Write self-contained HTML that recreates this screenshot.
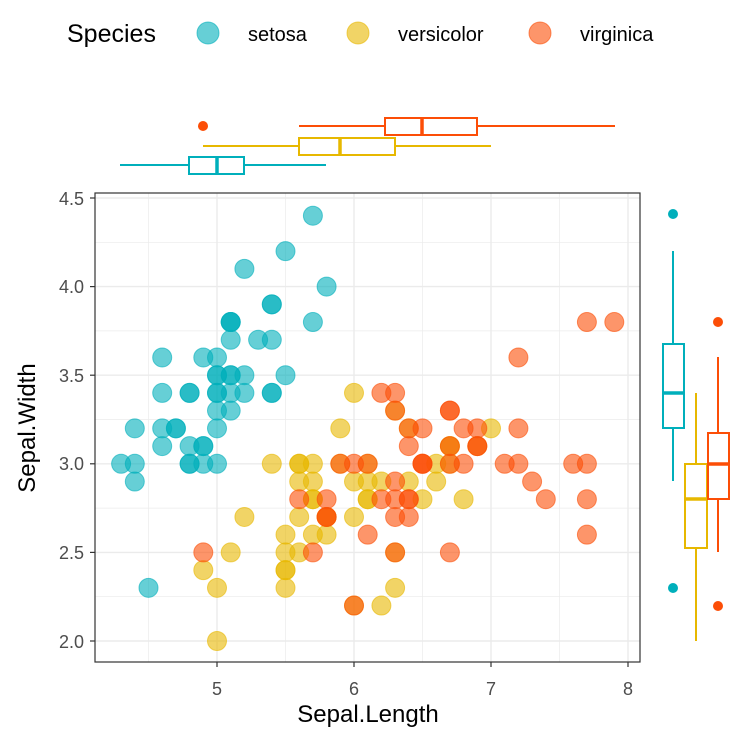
<!DOCTYPE html>
<html><head><meta charset="utf-8"><style>
html,body{margin:0;padding:0;background:#fff;}
svg{display:block;font-family:"Liberation Sans",sans-serif;}
</style></head><body>
<svg id="s" width="742" height="736" viewBox="0 0 742 736" xmlns="http://www.w3.org/2000/svg">
<rect width="742" height="736" fill="#fff"/>
<g id="grid"></g>
<g id="pts"></g>
<rect x="95" y="193" width="545" height="469" fill="none" stroke="#333" stroke-width="1.2"/>
<g id="ticks" stroke="#333" stroke-width="1.2"></g>
<g fill="#4d4d4d" font-size="18" text-anchor="middle">
<text x="217" y="695">5</text><text x="354" y="695">6</text><text x="491" y="695">7</text><text x="628" y="695">8</text>
</g>
<g fill="#4d4d4d" font-size="18" text-anchor="end">
<text x="84" y="205">4.5</text><text x="84" y="293">4.0</text><text x="84" y="382">3.5</text><text x="84" y="470">3.0</text><text x="84" y="559">2.5</text><text x="84" y="648">2.0</text>
</g>
<text x="368" y="722" font-size="24" text-anchor="middle">Sepal.Length</text>
<text transform="translate(35,428) rotate(-90)" font-size="24" text-anchor="middle">Sepal.Width</text>
<!-- legend -->
<text x="67" y="42" font-size="25">Species</text>
<circle cx="208" cy="33" r="11" fill="#00AFBB" fill-opacity="0.6" stroke="#00AFBB" stroke-opacity="0.6"/>
<text x="248" y="41" font-size="20">setosa</text>
<circle cx="358" cy="33" r="11" fill="#E7B800" fill-opacity="0.6" stroke="#E7B800" stroke-opacity="0.6"/>
<text x="398" y="41" font-size="20">versicolor</text>
<circle cx="540" cy="33" r="11" fill="#FC4E07" fill-opacity="0.6" stroke="#FC4E07" stroke-opacity="0.6"/>
<text x="580" y="41" font-size="20">virginica</text>
<!-- top boxplots -->
<g fill="none" stroke-width="2">
<g stroke="#00AFBB">
<line x1="120" y1="165" x2="189" y2="165"/><line x1="244" y1="165" x2="326" y2="165"/>
<rect x="189" y="157" width="55" height="17" fill="#fff"/><line x1="217" y1="157" x2="217" y2="174" stroke-width="3.5"/>
</g>
<g stroke="#E7B800">
<line x1="203" y1="146" x2="299" y2="146"/><line x1="395" y1="146" x2="491" y2="146"/>
<rect x="299" y="138" width="96" height="17" fill="#fff"/><line x1="340" y1="138" x2="340" y2="155" stroke-width="3.5"/>
</g>
<g stroke="#FC4E07">
<line x1="299" y1="126" x2="385" y2="126"/><line x1="477" y1="126" x2="615" y2="126"/>
<rect x="385" y="118" width="92" height="17" fill="#fff"/><line x1="422" y1="118" x2="422" y2="135" stroke-width="3.5"/>
</g>
</g>
<circle cx="203" cy="126" r="5" fill="#FC4E07"/>
<!-- right boxplots -->
<g fill="none" stroke-width="2">
<g stroke="#00AFBB">
<line x1="673" y1="251" x2="673" y2="344"/><line x1="673" y1="428" x2="673" y2="481"/>
<rect x="663" y="344" width="21" height="84" fill="#fff"/><line x1="663" y1="393" x2="684" y2="393" stroke-width="3.5"/>
</g>
<g stroke="#E7B800">
<line x1="696" y1="393" x2="696" y2="464"/><line x1="696" y1="548" x2="696" y2="641"/>
<rect x="685" y="464" width="22" height="84" fill="#fff"/><line x1="685" y1="499" x2="707" y2="499" stroke-width="3.5"/>
</g>
<g stroke="#FC4E07">
<line x1="718" y1="357" x2="718" y2="433"/><line x1="718" y1="499" x2="718" y2="552"/>
<rect x="708" y="433" width="21" height="66" fill="#fff"/><line x1="708" y1="464" x2="729" y2="464" stroke-width="3.5"/>
</g>
</g>
<circle cx="673" cy="214" r="5" fill="#00AFBB"/><circle cx="673" cy="588" r="5" fill="#00AFBB"/>
<circle cx="718" cy="322" r="5" fill="#FC4E07"/><circle cx="718" cy="606" r="5" fill="#FC4E07"/>
</svg>
<script>
var NS="http://www.w3.org/2000/svg";
function X(v){return 217+(v-5)*137;}
function Y(v){return 641-(v-2)*177.2;}
function el(p,t,a){var e=document.createElementNS(NS,t);for(var k in a)e.setAttribute(k,a[k]);p.appendChild(e);return e;}
var g=document.getElementById("grid"),tk=document.getElementById("ticks");
for(var v=4.5;v<=8.01;v+=0.5){var maj=Math.abs(v-Math.round(v))<0.01;el(g,"line",{x1:X(v),x2:X(v),y1:193,y2:662,stroke:"#ebebeb","stroke-width":maj?1.4:0.7});if(maj)el(tk,"line",{x1:X(v),x2:X(v),y1:662,y2:667});}
for(var v=2.0;v<=4.51;v+=0.25){var maj=Math.abs(v*2-Math.round(v*2))<0.01;el(g,"line",{y1:Y(v),y2:Y(v),x1:95,x2:640,stroke:"#ebebeb","stroke-width":maj?1.4:0.7});if(maj)el(tk,"line",{y1:Y(v),y2:Y(v),x1:90,x2:95});}
var S="5.1 3.5,4.9 3.0,4.7 3.2,4.6 3.1,5.0 3.6,5.4 3.9,4.6 3.4,5.0 3.4,4.4 2.9,4.9 3.1,5.4 3.7,4.8 3.4,4.8 3.0,4.3 3.0,5.8 4.0,5.7 4.4,5.4 3.9,5.1 3.5,5.7 3.8,5.1 3.8,5.4 3.4,5.1 3.7,4.6 3.6,5.1 3.3,4.8 3.4,5.0 3.0,5.0 3.4,5.2 3.5,5.2 3.4,4.7 3.2,4.8 3.1,5.4 3.4,5.2 4.1,5.5 4.2,4.9 3.1,5.0 3.2,5.5 3.5,4.9 3.6,4.4 3.0,5.1 3.4,5.0 3.5,4.5 2.3,4.4 3.2,5.0 3.5,5.1 3.8,4.8 3.0,5.1 3.8,4.6 3.2,5.3 3.7,5.0 3.3";
var V="7.0 3.2,6.4 3.2,6.9 3.1,5.5 2.3,6.5 2.8,5.7 2.8,6.3 3.3,4.9 2.4,6.6 2.9,5.2 2.7,5.0 2.0,5.9 3.0,6.0 2.2,6.1 2.9,5.6 2.9,6.7 3.1,5.6 3.0,5.8 2.7,6.2 2.2,5.6 2.5,5.9 3.2,6.1 2.8,6.3 2.5,6.1 2.8,6.4 2.9,6.6 3.0,6.8 2.8,6.7 3.0,6.0 2.9,5.7 2.6,5.5 2.4,5.5 2.4,5.8 2.7,6.0 2.7,5.4 3.0,6.0 3.4,6.7 3.1,6.3 2.3,5.6 3.0,5.5 2.5,5.5 2.6,6.1 3.0,5.8 2.6,5.0 2.3,5.6 2.7,5.7 3.0,5.7 2.9,6.2 2.9,5.1 2.5,5.7 2.8";
var G="6.3 3.3,5.8 2.7,7.1 3.0,6.3 2.9,6.5 3.0,7.6 3.0,4.9 2.5,7.3 2.9,6.7 2.5,7.2 3.6,6.5 3.2,6.4 2.7,6.8 3.0,5.7 2.5,5.8 2.8,6.4 3.2,6.5 3.0,7.7 3.8,7.7 2.6,6.0 2.2,6.9 3.2,5.6 2.8,7.7 2.8,6.3 2.7,6.7 3.3,7.2 3.2,6.2 2.8,6.1 3.0,6.4 2.8,7.2 3.0,7.4 2.8,7.9 3.8,6.4 2.8,6.3 2.8,6.1 2.6,7.7 3.0,6.3 3.4,6.4 3.1,6.0 3.0,6.9 3.1,6.7 3.1,6.9 3.1,5.8 2.7,6.8 3.2,6.7 3.3,6.7 3.0,6.3 2.5,6.5 3.0,6.2 3.4,5.9 3.0";
var p=document.getElementById("pts");
[[S,"#00AFBB"],[V,"#E7B800"],[G,"#FC4E07"]].forEach(function(d){d[0].split(",").forEach(function(s){var a=s.split(" ");el(p,"circle",{cx:X(+a[0]),cy:Y(+a[1]),r:9.5,fill:d[1],"fill-opacity":0.6,stroke:d[1],"stroke-opacity":0.6});});});
</script>
</body></html>
